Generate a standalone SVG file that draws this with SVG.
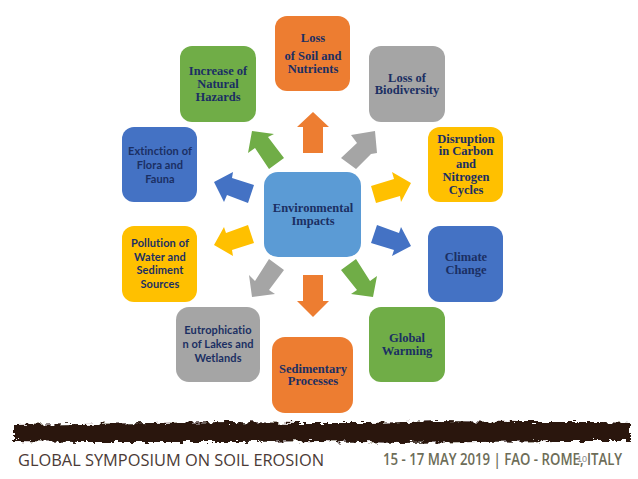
<svg xmlns="http://www.w3.org/2000/svg" width="638" height="479" viewBox="0 0 638 479">
<style>
.n{stroke:none}
.or{fill:#ed7d31}.gy{fill:#a5a5a5}.ye{fill:#ffc000}.bl{fill:#4472c4}.gr{fill:#70ad47}.lb{fill:#5b9bd5}
text{text-anchor:middle;font-weight:700;fill:#1b2f63}
.s{font-family:"Liberation Serif","Times New Roman",serif;font-size:12.5px}
.c{font-family:"Lato","Liberation Sans",sans-serif;font-size:11px;letter-spacing:.1px}
.f{text-anchor:start}
</style>
<defs>
<filter id="rough" x="-2%" y="-40%" width="104%" height="180%">
<feTurbulence type="fractalNoise" baseFrequency="0.14 0.3" numOctaves="3" seed="7"/>
<feDisplacementMap in="SourceGraphic" scale="8" xChannelSelector="R" yChannelSelector="G"/>
</filter>
</defs>
<rect width="638" height="479" fill="#fff"/>
<g id="connectors">
<polygon class="or" points="313,112 329,127 323,127 323,153 303,153 303,127 297,127"/>
<polygon class="gy" points="375,131 351,135 357,143 341,158 356,169 371,154 377,153"/>
<polygon class="ye" points="411,183 392,172 394,179 371,186 376,203 400,196 401,202"/>
<polygon class="bl" points="411,246 401,227 399,233 377,225 371,243 394,250 392,256"/>
<polygon class="gr" points="373,297 377,276 370,281 356,259 341,270 357,290 351,294"/>
<polygon class="or" points="313,317 329,301 323,301 323,275 303,275 303,301 297,301"/>
<polygon class="gy" points="252,297 249,275 255,281 269,259 284,270 269,290 275,294"/>
<polygon class="ye" points="214,245 224,227 226,233 248,225 254,243 232,250 233,256"/>
<polygon class="bl" points="214,182 224,202 227,195 248,203 254,185 232,178 233,172"/>
<polygon class="gr" points="252,131 248,153 255,148 269,169 284,158 268,137 274,134"/>
</g>
<g id="center"><rect class="lb" x="264" y="172" width="97" height="85" rx="14"/><text class="s" x="313" y="212">Environmental</text><text class="s" x="313" y="225">Impacts</text></g>
<g id="loss-soil"><rect class="or" x="275" y="16" width="75" height="75" rx="12"/><text class="s" x="313" y="42">Loss</text><text class="s" x="313" y="60">of Soil and</text><text class="s" x="313" y="73">Nutrients</text></g>
<g id="loss-bio"><rect class="gy" x="369" y="46" width="76" height="76" rx="12"/><text class="s" x="407" y="82">Loss of</text><text class="s" x="407" y="94">Biodiversity</text></g>
<g id="disruption"><rect class="ye" x="428" y="127" width="75" height="75" rx="12"/><text class="s" x="466" y="143">Disruption</text><text class="s" x="466" y="155">in Carbon</text><text class="s" x="466" y="168">and</text><text class="s" x="466" y="181">Nitrogen</text><text class="s" x="466" y="194">Cycles</text></g>
<g id="climate"><rect class="bl" x="428" y="226" width="75" height="76" rx="12"/><text class="s" x="466" y="261">Climate</text><text class="s" x="466" y="274">Change</text></g>
<g id="warming"><rect class="gr" x="369" y="307" width="76" height="75" rx="12"/><text class="s" x="407" y="342">Global</text><text class="s" x="407" y="355">Warming</text></g>
<g id="sedimentary"><rect class="or" x="272" y="337" width="81" height="76" rx="13"/><text class="s" x="313" y="373">Sedimentary</text><text class="s" x="313" y="385">Processes</text></g>
<g id="eutro"><rect class="gy" x="176" y="307" width="84" height="75" rx="13"/><text class="c" x="218" y="334">Eutrophicatio</text><text class="c" x="218" y="348">n of Lakes and</text><text class="c" x="218" y="362">Wetlands</text></g>
<g id="pollution"><rect class="ye" x="122" y="226" width="75" height="76" rx="12"/><text class="c" x="160" y="247">Pollution of</text><text class="c" x="160" y="261">Water and</text><text class="c" x="160" y="274">Sediment</text><text class="c" x="160" y="288">Sources</text></g>
<g id="extinction"><rect class="bl" x="122" y="127" width="75" height="75" rx="12"/><text class="c" x="160" y="155">Extinction of</text><text class="c" x="160" y="169">Flora and</text><text class="c" x="160" y="183">Fauna</text></g>
<g id="hazards"><rect class="gr" x="180" y="46" width="76" height="76" rx="12"/><text class="s" x="218" y="75">Increase of</text><text class="s" x="218" y="88">Natural</text><text class="s" x="218" y="101">Hazards</text></g>
<g id="footer">
<path d="M14,425 L80,424 L150,423 L230,422 L300,423 L370,423 L440,421 L520,422 L600,422 L630,423 L630,441 L560,441 L480,442 L400,443 L320,441 L240,442 L160,442 L80,442 L14,441 Z" fill="#2a1810" filter="url(#rough)"/>
<text class="f" x="18" y="466" textLength="306" lengthAdjust="spacingAndGlyphs" style="font-family:'Open Sans','Liberation Sans',sans-serif;font-size:16.5px;font-weight:500;fill:#4b3a36">GLOBAL SYMPOSIUM ON SOIL EROSION</text>
<text class="f" transform="translate(383,465) scale(.8,1)" textLength="299" lengthAdjust="spacingAndGlyphs" style="font-family:'Open Sans','Liberation Sans',sans-serif;font-size:17px;font-weight:600;fill:#6d6d58">15 - 17 MAY 2019 | FAO - ROME, ITALY</text>
<text class="f" x="577" y="462" style="font-family:'Liberation Sans',sans-serif;font-size:9px;font-weight:400;fill:#8a8a8a">10</text>
</g>
</svg>
